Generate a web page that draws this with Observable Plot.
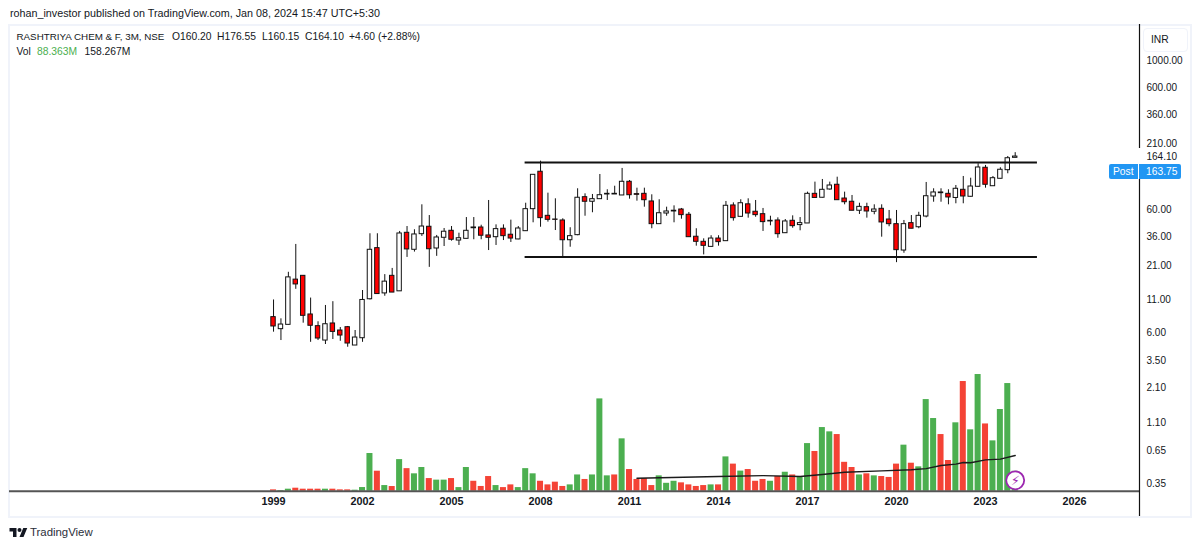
<!DOCTYPE html>
<html>
<head>
<meta charset="utf-8">
<script src="https://cdn.jsdelivr.net/npm/d3@7"></script>
<script src="https://cdn.jsdelivr.net/npm/@observablehq/plot@0.6"></script>
<style>
html,body{margin:0;padding:0;background:#fff;}
#page{position:relative;width:1200px;height:547px;overflow:hidden;font-family:"Liberation Sans",sans-serif;color:#131722;}
#page svg{position:absolute;left:0;top:0;}
.t{position:absolute;white-space:nowrap;font-size:10.3px;line-height:12px;}
#frame{position:absolute;left:8px;top:24px;width:1180px;height:490px;border:2px solid #f0f3fa;}
#inr{position:absolute;left:1143px;top:28px;width:43px;height:22px;border:1.5px solid #f0f3fa;border-radius:4px;}
.post{position:absolute;top:164px;height:15px;background:#2196f3;color:#fff;font-size:10.3px;line-height:15px;}
</style>
</head>
<body>
<div id="page">
  <div id="frame"></div>
  <div id="inr"></div>
  <div id="charts"></div>
  <div class="t" style="left:10px;top:7px;font-size:10.76px;">rohan_investor published on TradingView.com, Jan 08, 2024 15:47 UTC+5:30</div>
  <div class="t" style="left:16.5px;top:31px;font-size:9.8px;">RASHTRIYA CHEM &amp; F, 3M, NSE</div>
  <div class="t" style="left:172px;top:31px;">O160.20</div>
  <div class="t" style="left:217px;top:31px;">H176.55</div>
  <div class="t" style="left:262px;top:31px;">L160.15</div>
  <div class="t" style="left:305px;top:31px;">C164.10</div>
  <div class="t" style="left:349px;top:31px;">+4.60 (+2.88%)</div>
  <div class="t" style="left:16.5px;top:46px;">Vol</div>
  <div class="t" style="left:37px;top:46px;color:#4caf50;">88.363M</div>
  <div class="t" style="left:84.5px;top:46px;">158.267M</div>
  <div class="t" style="left:1151px;top:34px;">INR</div>
  <div class="post" style="left:1109px;width:29px;border-radius:2px 0 0 2px;padding-left:0;text-indent:4px;">Post</div>
  <div class="post" style="left:1139px;width:42px;border-radius:0 2px 2px 0;text-indent:7px;">163.75</div>
  <svg style="left:9px;top:525.5px;" width="19" height="14" viewBox="0 0 36 28"><path d="M14 22H7V11H0V4h14v18zM28 22h-8l7.5-18h8L28 22z" fill="#131722"/><circle cx="20" cy="8" r="4" fill="#131722"/></svg>
  <div class="t" style="left:30px;top:525px;font-size:11.4px;line-height:14px;color:#2a2e39;">TradingView</div>
</div>
<script>
const firstYear = 1999;
const opens = [8.0,6.38,6.92,16.2,17.4,8.41,6.75,5.15,7.1,6.22,6.62,4.69,5.38,11.2,29.3,12.5,17.4,13,39.1,28.4,
38.1,43.8,29.1,35.6,40.6,33.8,34.9,43.2,43.2,37.2,36,42.2,37.7,34.5,40.3,61,123.3,53.8,50.2,49.3,
34,37.4,76.4,70.1,73.6,80.4,81.4,78.9,102.1,80.9,81.4,70.5,46,56.2,58.4,60.6,54.9,36.3,33,30,
35.1,33.4,65.4,52.8,66.8,58.1,55.5,48.4,49.3,38.8,49,45.2,46.6,81.4,75.6,88.3,96.5,74.5,70.1,59.2,
63.3,58.1,61.4,50.2,46,28,46.9,43.4,53.1,77.4,83.5,81.4,75.3,87.8,77,92.9,132.9,93.9,108,127,160.2];
const highs = [11.05,7.75,18.6,31.4,17.5,11.45,7.33,9.96,10.7,6.58,6.71,6.22,13.2,38.4,38.4,17.8,20,40.1,44,41.4,
66.2,54.1,37.2,42.4,44,38.8,52.1,52.1,45.1,71.8,45.4,45.4,49.6,44,68.2,116.4,150.4,82.4,74.1,50.9,
43,89.5,81.4,80.4,117.1,87.8,93.9,131.2,104.6,90.5,90.5,79.9,72.8,63.3,64.9,61.8,57.3,42.2,34.9,37,
37,70.5,68.7,72.8,74.1,71.8,61.8,53.4,51.8,50.2,53.8,52.1,84,101.4,106.6,101.4,111.3,84,78.9,68.2,
68.2,66.2,66.2,59.5,59.5,49.3,54.1,57.5,100.8,89.5,89.5,87.8,95.2,112.8,109.2,143.3,138.8,112.8,132.9,164.3,176.55];
const lows = [6.03,5.15,6.9,13.5,7.14,4.98,5.15,4.78,5.25,5.08,4.54,4.69,4.98,11.05,12.3,11.85,12.7,13,24.6,27.2,
36.5,20.4,25.1,30.2,33.4,30.8,34.9,34.3,34.3,28,30.8,33.8,32.6,34.3,40.1,47.2,43.4,47.8,40.8,25,
29.8,37,53.4,57,73.6,71.8,80.4,78.9,73.6,70.9,63.3,42.2,46,53.4,47.2,50.5,36,30.4,25.8,29.8,
30.4,33.4,48.7,52.4,51.5,52.4,40.1,44.6,35.3,38.6,42.6,40.6,46.6,75.3,75.3,87.2,72.2,66.2,59.2,55.2,
51.5,54.9,36,43.8,22.3,26.6,42.2,42.2,51.8,69.5,69.5,66.2,67.5,67.5,76.4,92.2,90.5,93.9,108,118.7,160.15];
const closes = [6.71,6.96,16.9,14.8,8.2,6.8,5.35,7.0,6.06,5.66,4.87,5.45,11.05,28.4,12.35,15.6,12.7,38.6,28.6,37.9,
44,28.7,35.8,39.9,34.3,35.3,40.6,42.6,37,35.6,41.9,36.7,35.1,42.4,61,116.4,51.5,49.9,49.9,34,
36.7,75.6,70.1,73.6,79.3,81.4,80.4,102.1,79.3,79.9,72.2,46,56.5,58.4,59.2,54.5,36,33,30.6,35.1,
32.8,65,51.5,68.2,56.2,54.5,47.8,49,38.1,48.4,44.3,46.9,81.4,75.3,87.8,95.2,72.2,69.5,59.2,63.7,
58.4,60.6,47.5,46,28.2,46,42.2,53.8,77.8,83.5,82.4,76,89.5,77.4,93.4,133.6,96.5,109.2,128,159,164.1];
const volumes = [5.9,3,8.9,13.3,8.9,8.9,8.9,8.9,8.9,5.9,5.9,4.4,16.2,167,88.6,25,20.7,140,100,77,
105,56,49,49,56,16,105,44,21,65,25,16,28,16,100,77,44,28,40,21,
28,72,52,72,409,68,72,232,96,52,56,25,68,35,44,37,28,21,25,28,
28,152,120,89,96,44,52,44,65,84,72,65,211,176,282,263,251,128,105,72,
77,68,65,61,120,204,124,108,406,322,251,136,303,486,272,517,298,223,362,477,88.363];
const maQuarters = [49,60,66,71,74,77,82,86,88,90,92,93,94,96,98,100];
const maValues = [57.6,65,69,65,74,84,90,95,100,114,120,127,126,139,142,158.267];
const levels = [146.8,24.8];
const levelFrom = 2007.48, levelTo = 2024.75;
const priceTicks = [1000,600,360,210,164.10,60,36,21,11,6,3.5,2.1,1.1,0.65,0.35];
const yearTicks = [1999,2002,2005,2008,2011,2014,2017,2020,2023,2026];

const candles = opens.map((o,i)=>({t:firstYear+i/4,o,h:highs[i],l:lows[i],c:closes[i],v:volumes[i],up:closes[i]>=o}));
const half = 0.125;
const xDomain = [1990.10,2028.19];
const yMin = 0.188, yMax = 1968;
const W = 1200, H = 547, ML = 9, MR = 61;
const price2 = d3.format(".2f");

const volumePlot = Plot.plot({
  width:W,height:H,marginLeft:ML,marginRight:MR,marginTop:24,marginBottom:56.3,
  style:{background:"transparent",fontFamily:"Liberation Sans, sans-serif"},
  x:{type:"linear",domain:xDomain,axis:null},
  y:{domain:[0,2068],axis:null},
  marks:[
    Plot.rectY(candles,{x1:d=>d.t-half,x2:d=>d.t+half,y1:0,y2:"v",fill:d=>d.up?"#4caf50":"#f44336",insetLeft:0.7,insetRight:0.7}),
    Plot.line(maQuarters.map((q,i)=>({t:firstYear+q/4,v:maValues[i]})),{x:"t",y:"v",stroke:"#1c1c1c",strokeWidth:1.4}),
    Plot.ruleY([0],{stroke:"#555555",strokeWidth:2}),
    Plot.dot([candles[candles.length-1]],{x:"t",y:()=>48,r:9,fill:"#fff",stroke:"#9c27b0",strokeWidth:1.8}),
    Plot.text([candles[candles.length-1]],{x:"t",y:()=>48,text:()=>"\u26A1",fill:"#9c27b0",fontSize:13,fontFamily:"DejaVu Sans"}),
    Plot.axisX(yearTicks,{tickFormat:d3.format("d"),tickSize:0,tickPadding:6,fontWeight:"bold",fontSize:10.8,fill:"#131722",label:null,anchor:"bottom"})
  ]
});

const pricePlot = Plot.plot({
  width:W,height:H,marginLeft:ML,marginRight:MR,marginTop:24,marginBottom:31,
  style:{background:"transparent",fontFamily:"Liberation Sans, sans-serif"},
  x:{type:"linear",domain:xDomain,axis:null},
  y:{type:"log",domain:[yMin,yMax],axis:null},
  marks:[
    Plot.ruleX(candles,{x:"t",y1:"l",y2:"h",stroke:"#111",strokeWidth:1}),
    Plot.rect(candles,{x1:d=>d.t-half,x2:d=>d.t+half,y1:"o",y2:"c",fill:d=>d.up?"#fff":"#ff0000",stroke:"#111",strokeWidth:1,insetLeft:1.5,insetRight:1.5}),
    Plot.ruleY(levels,{x1:levelFrom,x2:levelTo,stroke:"#111",strokeWidth:2}),
    Plot.ruleX([xDomain[1]],{y1:yMax,y2:191,stroke:"#111",strokeWidth:1.2}),
    Plot.ruleX([xDomain[1]],{y1:106.6,y2:yMin,stroke:"#111",strokeWidth:1.2}),
    Plot.text(priceTicks,{y:d=>d,frameAnchor:"right",dx:7,textAnchor:"start",text:d=>price2(d),fontSize:10,fill:"#131722"})
  ]
});

const holder = document.getElementById("charts");
holder.append(volumePlot, pricePlot);
</script>
</body>
</html>
